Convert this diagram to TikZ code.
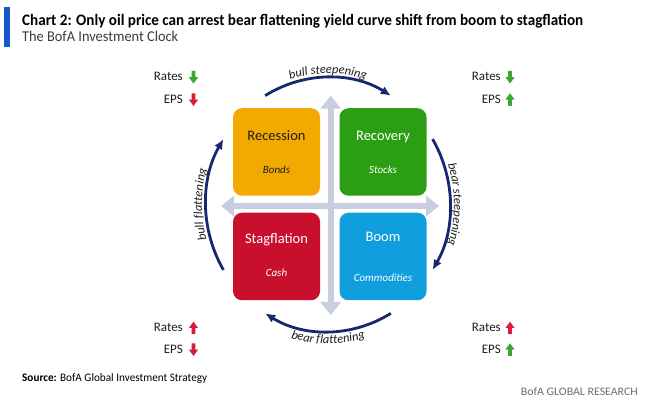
\documentclass[tikz,border=0pt]{standalone}
\usepackage{fontspec}
\usepackage{graphicx}
\setmainfont{Carlito}
\usetikzlibrary{arrows.meta,decorations.text}
\definecolor{barblue}{RGB}{22,88,200}
\definecolor{navy}{RGB}{22,40,110}
\definecolor{axisgray}{RGB}{200,205,224}
\definecolor{cRec}{RGB}{242,170,0}
\definecolor{cRecov}{RGB}{44,158,20}
\definecolor{cStag}{RGB}{200,16,46}
\definecolor{cBoom}{RGB}{16,158,222}
\definecolor{upgreen}{RGB}{58,168,48}
\definecolor{dnred}{RGB}{212,32,60}
\definecolor{txt}{RGB}{30,30,30}
\definecolor{subgray}{RGB}{60,60,60}
\definecolor{footgray}{RGB}{110,110,110}
\begin{document}
\begin{tikzpicture}[x=1pt,y=1pt,
  quad/.style={rounded corners=9pt, minimum width=87pt, minimum height=87.5pt, inner sep=0pt, draw=none},
  qtitle/.style={font=\fontsize{14.5}{17}\selectfont, anchor=base, inner sep=0pt},
  qsub/.style={font=\fontsize{11}{13}\selectfont\itshape, anchor=base, inner sep=0pt},
  lbl/.style={font=\fontsize{13}{15}\selectfont, text=txt, anchor=base east, inner sep=0pt},
  axisline/.style={draw=axisgray, line width=5.7pt, {Triangle[width=20pt,length=13pt]}-{Triangle[width=20pt,length=13pt]}},
  cyc/.style={draw=navy, line width=2.8pt, -{Latex[length=10pt,width=9pt]}},
  arclbl/.style={decorate, decoration={text along path, text align=center, text color=txt, text={|\fontsize{12.5}{14}\selectfont\itshape|#1}}},
  uparr/.pic={\fill (-1.8,-6.2) -- (-1.8,0) -- (-4.6,0) -- (0,6.3) -- (4.6,0) -- (1.8,0) -- (1.8,-6.2) -- cycle;},
  dnarr/.pic={\fill (-1.8,6.2) -- (-1.8,0) -- (-4.6,0) -- (0,-6.3) -- (4.6,0) -- (1.8,0) -- (1.8,6.2) -- cycle;}
]
\fill[white] (0,0) rectangle (645,404);
\useasboundingbox (0,0) rectangle (645,404);

% header
\node[fill=barblue, minimum width=6pt, minimum height=40pt, inner sep=0pt] (bar) at (7,377) {};
\node[anchor=base west, inner sep=0pt, text=black] (title) at (22,378.3)
  {\resizebox{561pt}{\height}{\fontsize{16}{19}\selectfont\bfseries Chart 2: Only oil price can arrest bear flattening yield curve shift from boom to stagflation}};
\node[anchor=base west, inner sep=0pt, text=subgray] (subtitle) at (22,362.3)
  {\resizebox{156pt}{\height}{\fontsize{15}{18}\selectfont The BofA Investment Clock}};

% axes
\coordinate (axT) at (330.7,308.3);
\coordinate (axB) at (330.7,89);
\coordinate (axL) at (221,198);
\coordinate (axR) at (439,198);
\draw[axisline] (axB) -- (axT);
\draw[axisline] (axL) -- (axR);

% quadrants
\node[quad, fill=cRec] (rec) at (276.5,252) {};
\node[quad, fill=cRecov] (recov) at (383,252) {};
\node[quad, fill=cStag] (stag) at (276.5,147.5) {};
\node[quad, fill=cBoom] (boom) at (383,147.5) {};

\node[qtitle, text=txt] (recT) at ([yshift=-32pt]rec.north) {Recession};
\node[qsub, text=txt] (recS) at ([yshift=-65pt]rec.north) {Bonds};
\node[qtitle, text=white] (recovT) at ([yshift=-32pt]recov.north) {Recovery};
\node[qsub, text=white] (recovS) at ([yshift=-65pt]recov.north) {Stocks};
\node[qtitle, text=white] (stagT) at ([yshift=-31pt]stag.north) {Stagflation};
\node[qsub, text=white] (stagS) at ([yshift=-64.3pt]stag.north) {Cash};
\node[qtitle, text=white] (boomT) at ([yshift=-29pt]boom.north) {Boom};
\node[qsub, text=white] (boomS) at ([yshift=-68.5pt]boom.north) {Commodities};

% cycle arcs
\coordinate (C) at (328,199.5);
\draw[cyc] ([shift={(121:122 and 127)}]C) arc[start angle=121, end angle=59, x radius=122, y radius=127];
\draw[cyc] ([shift={(31:122 and 127)}]C) arc[start angle=31, end angle=-31, x radius=122, y radius=127];
\draw[cyc] ([shift={(-59:122 and 127)}]C) arc[start angle=-59, end angle=-121, x radius=122, y radius=127];
\draw[cyc] ([shift={(211:122 and 127)}]C) arc[start angle=211, end angle=149, x radius=122, y radius=127];

% arc labels
\path[arclbl={bull steepening}] ([shift={(125:126 and 131)}]C) arc[start angle=125, end angle=55, x radius=126, y radius=131];
\path[arclbl={bear steepening}] ([shift={(35:126 and 131)}]C) arc[start angle=35, end angle=-35, x radius=126, y radius=131];
\path[arclbl={bull flattening}] ([shift={(215:126 and 131)}]C) arc[start angle=215, end angle=145, x radius=126, y radius=131];
\path[arclbl={bear flattening}] ([shift={(-125:134 and 139)}]C) arc[start angle=-125, end angle=-55, x radius=134, y radius=139];

% rates / eps
\node[lbl] (r1) at (183,323.3) {Rates};
\node[lbl] (e1) at (183,300.7) {EPS};
\pic[color=upgreen] at (193.5,326.8) {dnarr};
\pic[color=dnred] at (193.5,304.4) {dnarr};

\node[lbl] (r2) at (501,323.3) {Rates};
\node[lbl] (e2) at (501,300.7) {EPS};
\pic[color=upgreen] at (510,326.8) {dnarr};
\pic[color=upgreen] at (510,304.4) {uparr};

\node[lbl] (r3) at (183,72.3) {Rates};
\node[lbl] (e3) at (183,50.7) {EPS};
\pic[color=dnred] at (193.5,76) {uparr};
\pic[color=dnred] at (193.5,54.4) {dnarr};

\node[lbl] (r4) at (501,72.3) {Rates};
\node[lbl] (e4) at (501,50.7) {EPS};
\pic[color=dnred] at (510,76) {uparr};
\pic[color=upgreen] at (510,54.4) {uparr};

% footer
\node[anchor=base west, inner sep=0pt, text=black] (src) at (22,22)
  {\resizebox{185pt}{\height}{\fontsize{11.5}{13}\selectfont\textbf{Source:} BofA Global Investment Strategy}};
\node[anchor=base east, inner sep=0pt, text=footgray] (brand) at (638,8)
  {\resizebox{117pt}{\height}{\fontsize{11.5}{13}\selectfont BofA GLOBAL RESEARCH}};
\end{tikzpicture}
\end{document}
